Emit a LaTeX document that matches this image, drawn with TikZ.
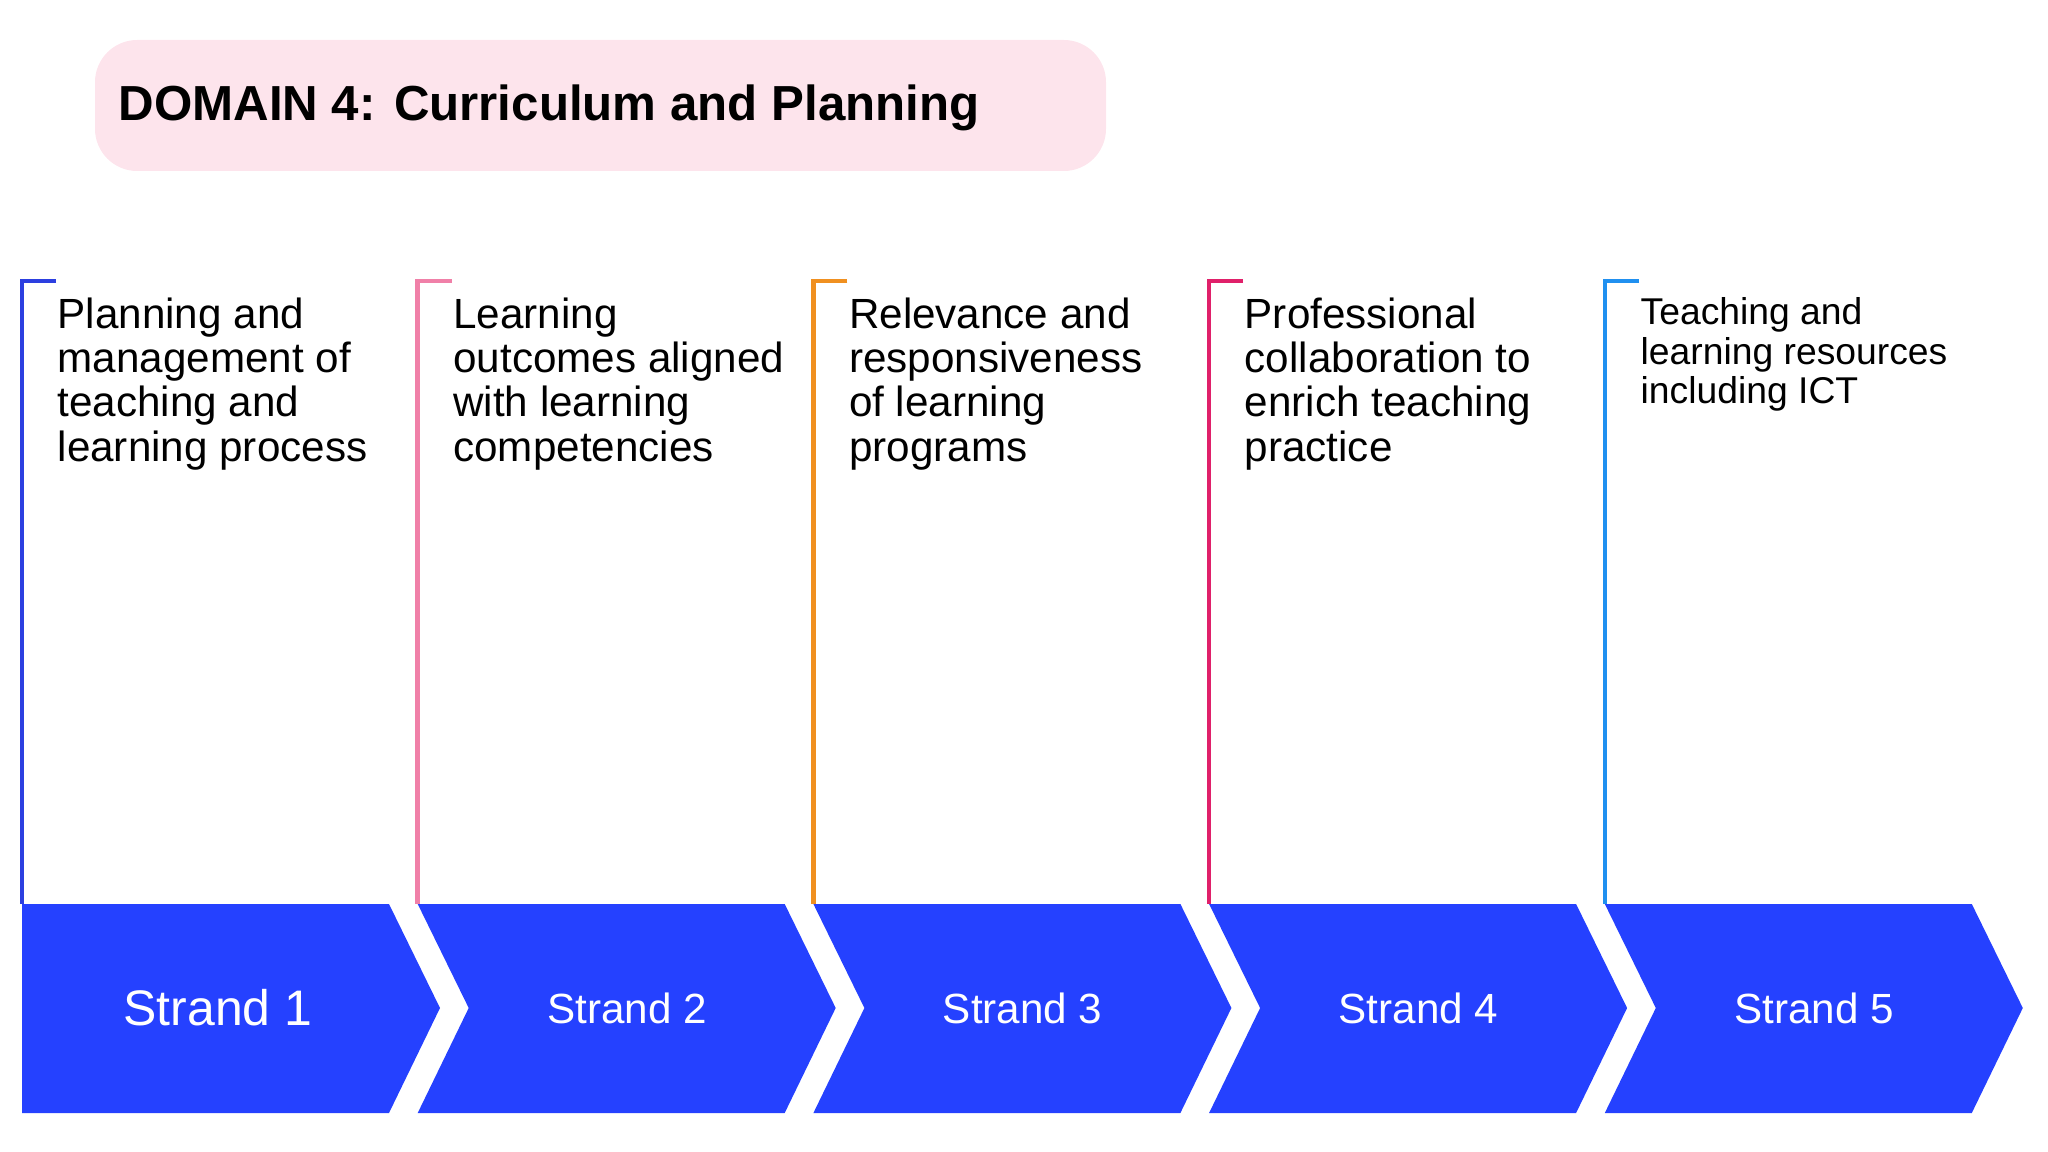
\documentclass[tikz,border=0pt]{standalone}
\usepackage{fontspec}
\setmainfont{Liberation Sans}
\usetikzlibrary{positioning}
\definecolor{chevblue}{HTML}{2541FF}
\definecolor{titlepink}{HTML}{FDE4EC}
\definecolor{cA}{HTML}{2C3FE0}
\definecolor{cB}{HTML}{F080A8}
\definecolor{cC}{HTML}{F09020}
\definecolor{cD}{HTML}{E0206A}
\definecolor{cE}{HTML}{2090F0}
\tikzset{
  strandtext/.style={anchor=north west,align=left,inner sep=0pt,font=\fontsize{12}{12.6}\selectfont},
  strandlabel/.style={text=white,inner sep=0pt,font=\fontsize{12}{14}\selectfont},
}
\begin{document}
\begin{tikzpicture}[x=0.01cm,y=-0.01cm]
\useasboundingbox (0,0) rectangle (2048,1152);
% title
\fill[titlepink,rounded corners=12pt] (95,40) rectangle (1106,171);
\node[anchor=west,inner sep=0pt,font=\fontsize{14}{16}\selectfont\bfseries] (title) at (118,108) {DOMAIN 4: Curriculum and Planning};
% chevrons and brackets
\foreach \i/\col/\txt in {0/cA/{Planning and\\management of\\teaching and\\learning process},
  1/cB/{Learning\\outcomes aligned\\with learning\\competencies},
  2/cC/{Relevance and\\responsiveness\\of learning\\programs},
  3/cD/{Professional\\collaboration to\\enrich teaching\\practice}}{
  \pgfmathsetmacro{\xl}{22+395.7*\i}
  \draw[\col,line width=1.3pt] (\xl+34,281) -- (\xl,281) -- (\xl,904);
  \node[strandtext] (txt\i) at (\xl+35,297) {\txt};
}
\draw[cE,line width=1.3pt] (1639,281) -- (1605,281) -- (1605,904);
\node[strandtext,font=\fontsize{10.6}{11.2}\selectfont] (txt4) at (1640,297) {Teaching and\\learning resources\\including ICT};
\fill[chevblue] (22,904) -- (389,904) -- (440,1008) -- (389,1113) -- (22,1113) -- cycle;
\foreach \i in {1,...,4}{
  \pgfmathsetmacro{\xl}{22+395.7*\i}
  \fill[chevblue] (\xl,904) -- (\xl+367,904) -- (\xl+418,1008) -- (\xl+367,1113) -- (\xl,1113) -- (\xl+51,1008) -- cycle;
}
\node[strandlabel,font=\fontsize{14.2}{16}\selectfont] (s1) at (218,1008) {Strand 1};
\foreach \i in {2,...,5}{
  \node[strandlabel] (s\i) at (627+395.7*\i-791.4,1008) {Strand \i};
}
\end{tikzpicture}
\end{document}
